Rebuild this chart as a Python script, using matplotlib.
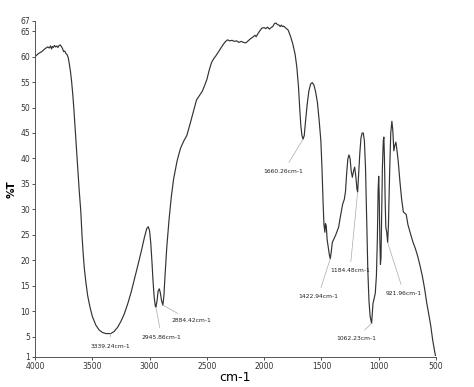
import matplotlib
matplotlib.use('Agg')
import matplotlib.pyplot as plt

# IR 스펙트럼 (wavenumber, %T)
wavenumber = [
    4000, 3970, 3940, 3910, 3890, 3875, 3865, 3855, 3850, 3840, 3830, 3820, 3810, 3800,
    3790, 3780, 3770, 3760, 3750, 3740, 3730, 3720, 3710, 3700, 3690, 3680, 3670, 3660,
    3650, 3640, 3630, 3615, 3600, 3590, 3580, 3570, 3555, 3540, 3520, 3500, 3470, 3440,
    3410, 3380, 3339, 3310, 3280, 3250, 3220, 3190, 3160, 3130, 3100, 3070, 3045, 3025,
    3012, 3000, 2990, 2980, 2970, 2960, 2950, 2945, 2935, 2925, 2915, 2905, 2895, 2884,
    2875, 2865, 2850, 2830, 2810, 2790, 2760, 2730, 2700, 2675, 2650, 2620, 2590, 2560,
    2540, 2520, 2500, 2480, 2460, 2440, 2420, 2400, 2380, 2360, 2340, 2320, 2300, 2280,
    2260, 2240, 2220, 2200, 2180, 2160, 2140, 2120, 2100, 2080, 2070, 2060, 2040, 2020,
    2000, 1985, 1970, 1955, 1940, 1925, 1910, 1895, 1885, 1870, 1860, 1850, 1840, 1830,
    1810, 1790, 1770, 1750, 1730, 1715, 1700, 1690, 1680, 1670, 1660, 1650, 1640, 1625,
    1610, 1595, 1580, 1565, 1550, 1535, 1520, 1505, 1495, 1485, 1478, 1470, 1465, 1458,
    1450, 1440, 1430, 1423, 1415, 1405, 1395, 1385, 1375, 1365, 1350, 1335, 1315, 1300,
    1290, 1280, 1270, 1260, 1250, 1240, 1230, 1220, 1210, 1200, 1190, 1184, 1175, 1165,
    1155, 1145, 1135, 1125, 1115, 1105, 1095, 1085, 1075, 1062, 1050, 1040, 1030, 1020,
    1012, 1005, 1000, 996, 990, 985, 980, 975, 968, 960, 955, 950, 944, 938,
    930, 922, 915, 905, 895, 885, 877, 868, 860, 850, 840, 830, 815, 800,
    785, 770, 760, 745, 720, 700, 680, 660, 640, 620, 600, 580, 560, 545,
    530, 515, 505,
]
transmittance = [
    60.0, 60.6, 61.0, 61.6, 61.9, 61.7, 62.1, 61.5, 62.0, 61.8, 62.2, 61.9, 62.1, 61.8,
    62.2, 62.3, 62.0, 61.6, 61.0, 61.1, 60.6, 60.4, 59.8, 58.5, 57.0, 55.0, 52.5, 49.5,
    46.0, 42.5, 39.0, 34.0, 29.5, 25.0, 21.5, 18.5, 15.5, 13.0, 10.8, 9.0, 7.3, 6.3,
    5.8, 5.6, 5.6, 6.0, 6.8, 8.0, 9.5, 11.5, 13.8, 16.5, 19.2, 22.0, 24.5, 26.2,
    26.6, 25.8, 23.5, 20.0, 16.0, 12.8, 11.0, 10.8, 12.0, 14.0, 14.4, 13.5, 12.0, 11.2,
    13.0, 17.0, 22.5, 28.0, 32.5, 36.0, 39.5, 42.0, 43.5, 44.5, 46.5, 49.0, 51.5, 52.5,
    53.2, 54.3, 55.5, 57.3, 58.8, 59.6, 60.2, 60.9, 61.6, 62.3, 62.9, 63.3, 63.1, 63.2,
    63.0, 63.1, 62.8, 63.0, 62.8, 62.7, 63.1, 63.5, 63.8, 64.2, 63.9, 64.3, 65.0, 65.6,
    65.7, 65.5, 65.8, 65.4, 65.7, 65.9, 66.5, 66.6, 66.3, 66.2, 65.9, 66.2, 65.9, 66.0,
    65.6, 65.2, 64.0, 62.5, 60.5, 58.0, 54.0, 50.0, 46.5, 44.5, 43.8, 44.5, 47.0, 50.5,
    53.2, 54.6, 54.9, 54.4, 53.0, 51.0, 47.5, 43.5, 38.0, 31.0, 27.0, 25.5, 27.2, 26.8,
    24.0, 22.5, 21.0, 20.3, 21.5, 23.5, 24.0, 24.5, 25.0, 25.6, 26.5, 28.5, 31.0, 32.0,
    33.5, 37.0, 39.8, 40.7, 40.0, 37.5, 36.3, 37.5, 38.3, 36.5, 34.0, 33.4, 37.0, 41.0,
    44.0, 45.0, 45.0, 43.5, 38.0, 28.0, 18.0, 12.0, 9.0, 7.6, 11.5, 12.5, 13.5, 17.0,
    24.0, 34.0, 36.5, 33.0, 24.0, 19.2, 20.5, 28.0, 38.0, 43.5, 44.2, 40.0, 32.0, 26.5,
    25.5, 23.5, 27.0, 37.0, 45.0, 47.3, 45.5, 41.5, 42.5, 43.2, 41.5, 39.5, 35.5, 32.0,
    29.5, 29.2, 29.0, 27.0, 25.0, 23.5, 22.3, 20.8, 19.0, 17.0, 14.5, 11.5, 9.0, 7.0,
    4.5, 2.5, 1.3,
]

# 피크 라벨
peak_labels = ['3339.24cm-1', '2945.86cm-1', '2884.42cm-1', '1660.26cm-1',
               '1422.94cm-1', '1184.48cm-1', '1062.23cm-1', '921.96cm-1']
peak_x = [3339, 2945, 2884, 1660, 1423, 1184, 1062, 922]
peak_y = [5.6, 10.8, 11.2, 43.8, 20.3, 33.4, 7.6, 23.5]
label_x = [3345, 2895, 2638, 1830, 1530, 1251, 1198, 779]
label_y = [3.1, 4.9, 8.1, 37.5, 12.8, 17.9, 4.7, 13.4]

x_ticks = [4000, 3500, 3000, 2500, 2000, 1500, 1000, 500]
y_ticks = [1, 5, 10, 15, 20, 25, 30, 35, 40, 45, 50, 55, 60, 65, 67]

fig = plt.figure(figsize=(4.74, 3.87), dpi=100)
ax = fig.add_axes([35 / 474, 1 - 357 / 387, 401 / 474, 336 / 387])

ax.plot(wavenumber, transmittance, color='#333333', lw=0.85)

for txt, px, py, lx, ly in zip(peak_labels, peak_x, peak_y, label_x, label_y):
    ax.annotate(txt, xy=(px, py), xytext=(lx, ly), fontsize=4.3, color='#222222',
                ha='center', va='center',
                arrowprops=dict(arrowstyle='-', color='#aaaaaa', lw=0.5,
                                shrinkA=3, shrinkB=0))

ax.set_xlim(4000, 500)
ax.set_ylim(1, 67)
ax.set_xticks(x_ticks)
ax.set_yticks(y_ticks)
ax.tick_params(labelsize=5.5, length=2.5, width=0.6, colors='#333333', pad=1)

for side in ['top', 'right']:
    ax.spines[side].set_visible(False)
for side in ['left', 'bottom']:
    ax.spines[side].set_color('#555555')
    ax.spines[side].set_linewidth(0.7)

ax.set_xlabel('cm-1', fontsize=9, labelpad=0)
ax.set_ylabel('%T', fontsize=7.5, fontweight='bold', labelpad=3)

plt.savefig('out.png', dpi=100)
